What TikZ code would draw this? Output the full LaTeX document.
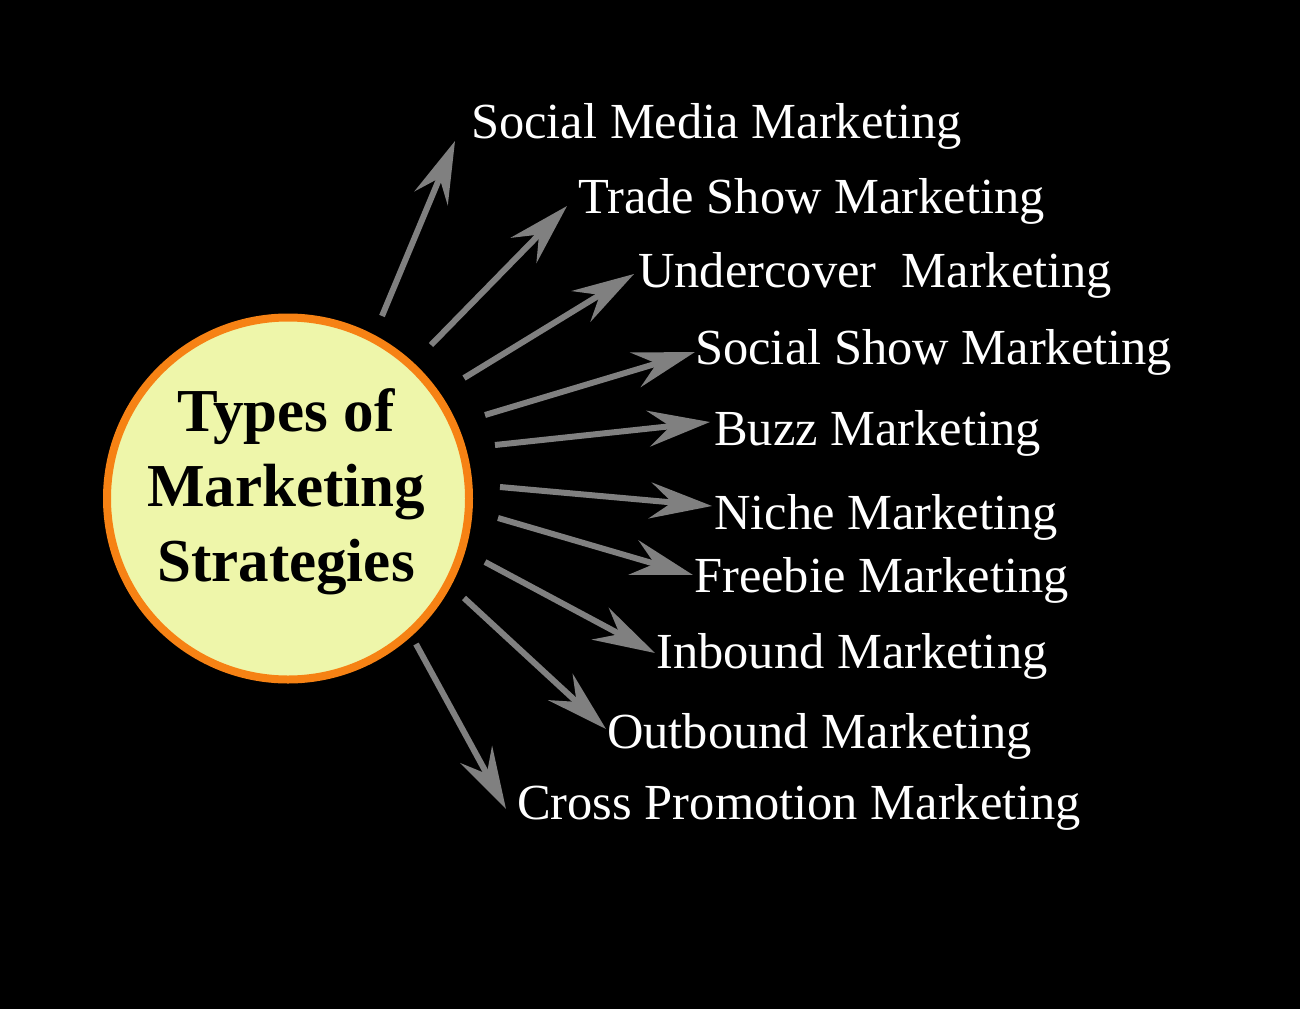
\documentclass[tikz,border=0pt]{standalone}
\usepackage{fontspec}
\setmainfont{Liberation Serif}
\usetikzlibrary{arrows.meta}
\definecolor{bgblack}{RGB}{0,0,0}
\definecolor{ringorange}{RGB}{246,130,20}
\definecolor{discfill}{RGB}{238,246,170}
\definecolor{arrowgray}{RGB}{128,128,128}
\tikzset{
  lbl/.style={anchor=base west, inner sep=0pt, text=white, font=\fontsize{50.5}{60}\selectfont},
  ray/.style={draw=arrowgray, line width=6pt, -{Stealth[length=62pt, width=36pt, inset=22pt]}},
  disc/.style={circle, draw=ringorange, line width=8pt, fill=discfill, minimum size=362pt, inner sep=0pt},
  ttl/.style={align=center, inner sep=0pt, text=black, font=\fontsize{61}{75}\selectfont\bfseries}
}
\begin{document}
\begin{tikzpicture}[x=1pt,y=-1pt]
\fill[bgblack] (0,0) rectangle (1300,1009);
\useasboundingbox (0,0) rectangle (1300,1009);
\node[disc] (c) at (288,498.5) {};
\node[ttl] (title) at (286,492) {Types of\\Marketing\\Strategies};
% labels
\node[lbl] (l1) at (471,138) {Social Media Marketing};
\node[lbl] (l2) at (578,213) {Trade Show Marketing};
\node[lbl] (l3) at (638,287) {Undercover \ Marketing};
\node[lbl] (l4) at (695,364) {Social Show Marketing};
\node[lbl] (l5) at (714,445) {Buzz Marketing};
\node[lbl] (l6) at (714,529) {Niche Marketing};
\node[lbl] (l7) at (694,592) {Freebie Marketing};
\node[lbl] (l8) at (656,668) {Inbound Marketing};
\node[lbl] (l9) at (607,748) {Outbound Marketing};
\node[lbl] (l10) at (517,819) {Cross Promotion Marketing};
% arrow ends
\coordinate (s1) at (382,316);  \coordinate (t1) at (455,141);
\coordinate (s2) at (431,345);  \coordinate (t2) at (567,206);
\coordinate (s3) at (464,378);  \coordinate (t3) at (634,274);
\coordinate (s4) at (485,415);  \coordinate (t4) at (695,352);
\coordinate (s5) at (495,445);  \coordinate (t5) at (710,422);
\coordinate (s6) at (500,487);  \coordinate (t6) at (712,506);
\coordinate (s7) at (498,518);  \coordinate (t7) at (693,575);
\coordinate (s8) at (485,562);  \coordinate (t8) at (655,653);
\coordinate (s9) at (464,598);  \coordinate (t9) at (606,729);
\coordinate (s10) at (416,644); \coordinate (t10) at (506,809);
\foreach \i in {1,...,10} {\draw[ray] (s\i) -- (t\i);}
\end{tikzpicture}
\end{document}
